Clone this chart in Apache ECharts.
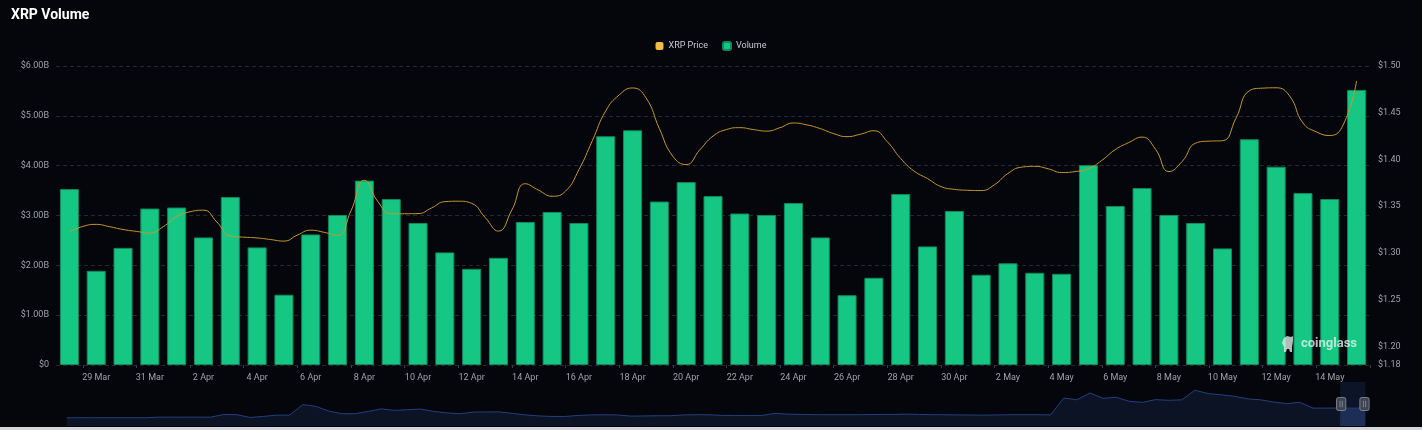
<!DOCTYPE html>
<html>
<head>
<meta charset="utf-8">
<title>XRP Volume</title>
<script src="https://cdn.jsdelivr.net/npm/echarts@6/dist/echarts.min.js"></script>
<style>
  html, body { margin: 0; padding: 0; background: #04060b; }
  #main { width: 1422px; height: 427px; }
  #edge { width: 1422px; height: 3px; background: #d4d6da; }
</style>
</head>
<body>
<div id="main"></div>
<div id="edge"></div>
<script>
// days shown on the main chart
var dates = [
  '28 Mar', '29 Mar', '30 Mar', '31 Mar',
  '1 Apr', '2 Apr', '3 Apr', '4 Apr', '5 Apr', '6 Apr', '7 Apr', '8 Apr', '9 Apr', '10 Apr',
  '11 Apr', '12 Apr', '13 Apr', '14 Apr', '15 Apr', '16 Apr', '17 Apr', '18 Apr', '19 Apr', '20 Apr',
  '21 Apr', '22 Apr', '23 Apr', '24 Apr', '25 Apr', '26 Apr', '27 Apr', '28 Apr', '29 Apr', '30 Apr',
  '1 May', '2 May', '3 May', '4 May', '5 May', '6 May', '7 May', '8 May', '9 May', '10 May',
  '11 May', '12 May', '13 May', '14 May', '15 May'
];

// daily volume, billions of USD
var volume = [
  3.53, 1.89, 2.35, 3.14, 3.16, 2.56, 3.37, 2.36, 1.41, 2.62,
  3.01, 3.70, 3.33, 2.85, 2.26, 1.93, 2.15, 2.87, 3.07, 2.85,
  4.59, 4.71, 3.28, 3.67, 3.39, 3.04, 3.01, 3.25, 2.56, 1.40,
  1.75, 3.43, 2.38, 3.09, 1.81, 2.04, 1.85, 1.83, 4.01, 3.19,
  3.55, 3.01, 2.85, 2.34, 4.53, 3.98, 3.45, 3.33, 5.52
];

// price every half day, from 28 Mar to 15 May
var price = [
  1.3226, 1.3283, 1.3305, 1.3280, 1.3250, 1.3230, 1.3212, 1.3280, 1.3390, 1.3440,
  1.3457, 1.3330, 1.3180, 1.3168, 1.3160, 1.3143, 1.3126, 1.3190, 1.3243, 1.3220,
  1.3187, 1.3450, 1.3777, 1.3550, 1.3418, 1.3419, 1.3420, 1.3480, 1.3548, 1.3553,
  1.3530, 1.3380, 1.3233, 1.3460, 1.3740, 1.3670, 1.3606, 1.3660, 1.3890, 1.4200,
  1.4520, 1.4690, 1.4765, 1.4660, 1.4330, 1.4035, 1.3945, 1.4100, 1.4250, 1.4320,
  1.4340, 1.4320, 1.4303, 1.4340, 1.4390, 1.4370, 1.4330, 1.4276, 1.4244, 1.4270,
  1.4307, 1.4190, 1.4010, 1.3875, 1.3795, 1.3710, 1.3680, 1.3670, 1.3667, 1.3730,
  1.3850, 1.3917, 1.3926, 1.3900, 1.3860, 1.3870, 1.3900, 1.3990, 1.4105, 1.4180,
  1.4239, 1.4110, 1.3870, 1.3980, 1.4175, 1.4196, 1.4200, 1.4440, 1.4735, 1.4763,
  1.4767, 1.4680, 1.4390, 1.4295, 1.4256, 1.4370, 1.4840
];

// long price history drawn in the zoom slider
var priceHistory = [
  0.27, 0.27, 0.27, 0.27, 0.27, 0.27, 0.27, 0.33, 0.33, 0.33,
  0.33, 0.33, 0.60, 0.57, 0.30, 0.40, 0.53, 0.53, 1.57, 1.40,
  0.93, 0.67, 0.67, 0.90, 1.15, 1.00, 1.07, 1.13, 0.90, 0.75,
  0.67, 0.83, 0.85, 0.85, 0.70, 0.55, 0.45, 0.40, 0.40, 0.50,
  0.55, 0.57, 0.55, 0.43, 0.45, 0.47, 0.47, 0.55, 0.57, 0.57,
  0.50, 0.50, 0.50, 0.50, 0.70, 0.63, 0.60, 0.58, 0.57, 0.57,
  0.57, 0.58, 0.60, 0.60, 0.63, 0.60, 0.58, 0.57, 0.55, 0.54,
  0.53, 0.55, 0.57, 0.57, 0.57, 0.55, 2.23, 2.05, 2.73, 2.20,
  2.30, 1.90, 1.80, 2.07, 2.00, 2.05, 3.00, 2.67, 2.55, 2.40,
  2.15, 2.05, 1.83, 1.67, 1.80, 1.23, 1.23, 1.23, 1.23, 1.23
];

var pricePoints = price.map(function (p, k) { return [k / 2, p]; });
var historyPoints = priceHistory.map(function (v, j) { return [j, v]; });

var labelFont = 'Roboto, "Noto Sans", sans-serif';
var everyOther = function (i) { return i % 2 === 1; };

var myChart = echarts.init(document.getElementById('main'));

var option = {
  backgroundColor: '#04060b',
  animation: false,
  title: {
    text: 'XRP Volume',
    left: 6,
    top: 3,
    textStyle: { color: '#ffffff', fontSize: 14, fontWeight: 'bold', fontFamily: labelFont }
  },
  legend: {
    data: ['XRP Price', 'Volume'],
    top: 36,
    left: 'center',
    icon: 'roundRect',
    itemWidth: 8,
    itemHeight: 8,
    itemGap: 14,
    textStyle: { color: '#c9ccd2', fontSize: 9, fontFamily: labelFont }
  },
  grid: [
    { left: 56, right: 52, top: 66, bottom: 62 },
    { left: 64, right: 58, top: 382, height: 44, show: false }
  ],
  xAxis: [
    {
      type: 'category',
      gridIndex: 0,
      data: dates,
      axisLine: { show: false },
      axisTick: { show: true, interval: everyOther, length: 3, lineStyle: { color: '#3a3e46' } },
      axisLabel: { interval: everyOther, color: '#9ea2aa', fontSize: 9, fontFamily: labelFont, margin: 8 }
    },
    {
      type: 'value',
      gridIndex: 0,
      min: -0.5,
      max: dates.length - 0.5,
      show: false
    },
    {
      type: 'value',
      gridIndex: 1,
      min: 0,
      max: priceHistory.length - 1,
      show: false
    }
  ],
  yAxis: [
    {
      type: 'value',
      gridIndex: 0,
      min: 0,
      max: 6,
      interval: 1,
      axisLine: { show: false },
      axisTick: { show: false },
      axisLabel: {
        color: '#9ea2aa', fontSize: 9, fontFamily: labelFont, margin: 7,
        formatter: function (v) { return v === 0 ? '$0' : '$' + v.toFixed(2) + 'B'; }
      },
      splitLine: { lineStyle: { color: '#25282f', type: [4, 3] } }
    },
    {
      type: 'value',
      gridIndex: 0,
      position: 'right',
      min: 1.18,
      max: 1.5,
      axisLine: { show: false },
      axisTick: { show: false },
      axisLabel: {
        color: '#9ea2aa', fontSize: 9, fontFamily: labelFont, margin: 8,
        formatter: function (v) { return '$' + v.toFixed(2); }
      },
      splitLine: { show: false }
    },
    {
      type: 'value',
      gridIndex: 1,
      show: false
    }
  ],
  dataZoom: [{
    type: 'slider',
    xAxisIndex: 2,
    left: 64,
    right: 59,
    top: 382,
    height: 44,
    start: 98.05,
    end: 100,
    showDetail: false,
    brushSelect: false,
    moveHandleSize: 0,
    zoomLock: true,
    borderColor: 'transparent',
    backgroundColor: 'transparent',
    fillerColor: 'rgba(22, 38, 78, 0.45)',
    handleIcon: 'path://M2,0h6a2,2,0,0,1,2,2v10a2,2,0,0,1-2,2h-6a2,2,0,0,1-2-2v-10a2,2,0,0,1,2-2zM3.8,3.5v7M6.2,3.5v7',
    handleSize: 13,
    handleStyle: { color: '#3f4452', borderColor: '#8d929c', borderWidth: 0.8 },
    dataBackground: {
      lineStyle: { color: '#24407e', width: 1, opacity: 1 },
      areaStyle: { color: '#0b1325', opacity: 1 }
    },
    selectedDataBackground: {
      lineStyle: { color: '#2f4f95', width: 1, opacity: 1 },
      areaStyle: { color: '#22355d', opacity: 1 }
    }
  }],
  series: [
    {
      name: 'Volume',
      type: 'bar',
      xAxisIndex: 0,
      yAxisIndex: 0,
      barWidth: '71%',
      itemStyle: { color: '#16c784', borderColor: '#0f8a5e', borderWidth: 1 },
      data: volume,
      z: 2
    },
    {
      name: 'XRP Price',
      type: 'line',
      xAxisIndex: 1,
      yAxisIndex: 1,
      smooth: 0.5,
      symbol: 'none',
      itemStyle: { color: '#f0bb46' },
      lineStyle: { color: '#c7982f', width: 1 },
      data: pricePoints,
      z: 3
    },
    {
      name: 'history',
      type: 'line',
      xAxisIndex: 2,
      yAxisIndex: 2,
      symbol: 'none',
      silent: true,
      lineStyle: { opacity: 0 },
      data: historyPoints
    }
  ],
  graphic: [
    {
      type: 'polygon',
      left: 1282,
      top: 336,
      z: 10,
      shape: {
        points: [[3, 2], [6, 0], [10, 1], [12, 0], [12, 5], [11, 11], [11, 16], [9, 16], [8, 13],
                 [6, 13], [5, 16], [3, 16], [3, 11], [1, 7]]
      },
      style: { fill: 'rgba(230, 240, 236, 0.78)' }
    },
    {
      type: 'text',
      left: 1301,
      top: 337,
      z: 10,
      style: {
        text: 'coinglass',
        fill: 'rgba(230, 240, 236, 0.8)',
        font: 'bold 13px ' + labelFont
      }
    }
  ]
};

myChart.setOption(option);
</script>
</body>
</html>
